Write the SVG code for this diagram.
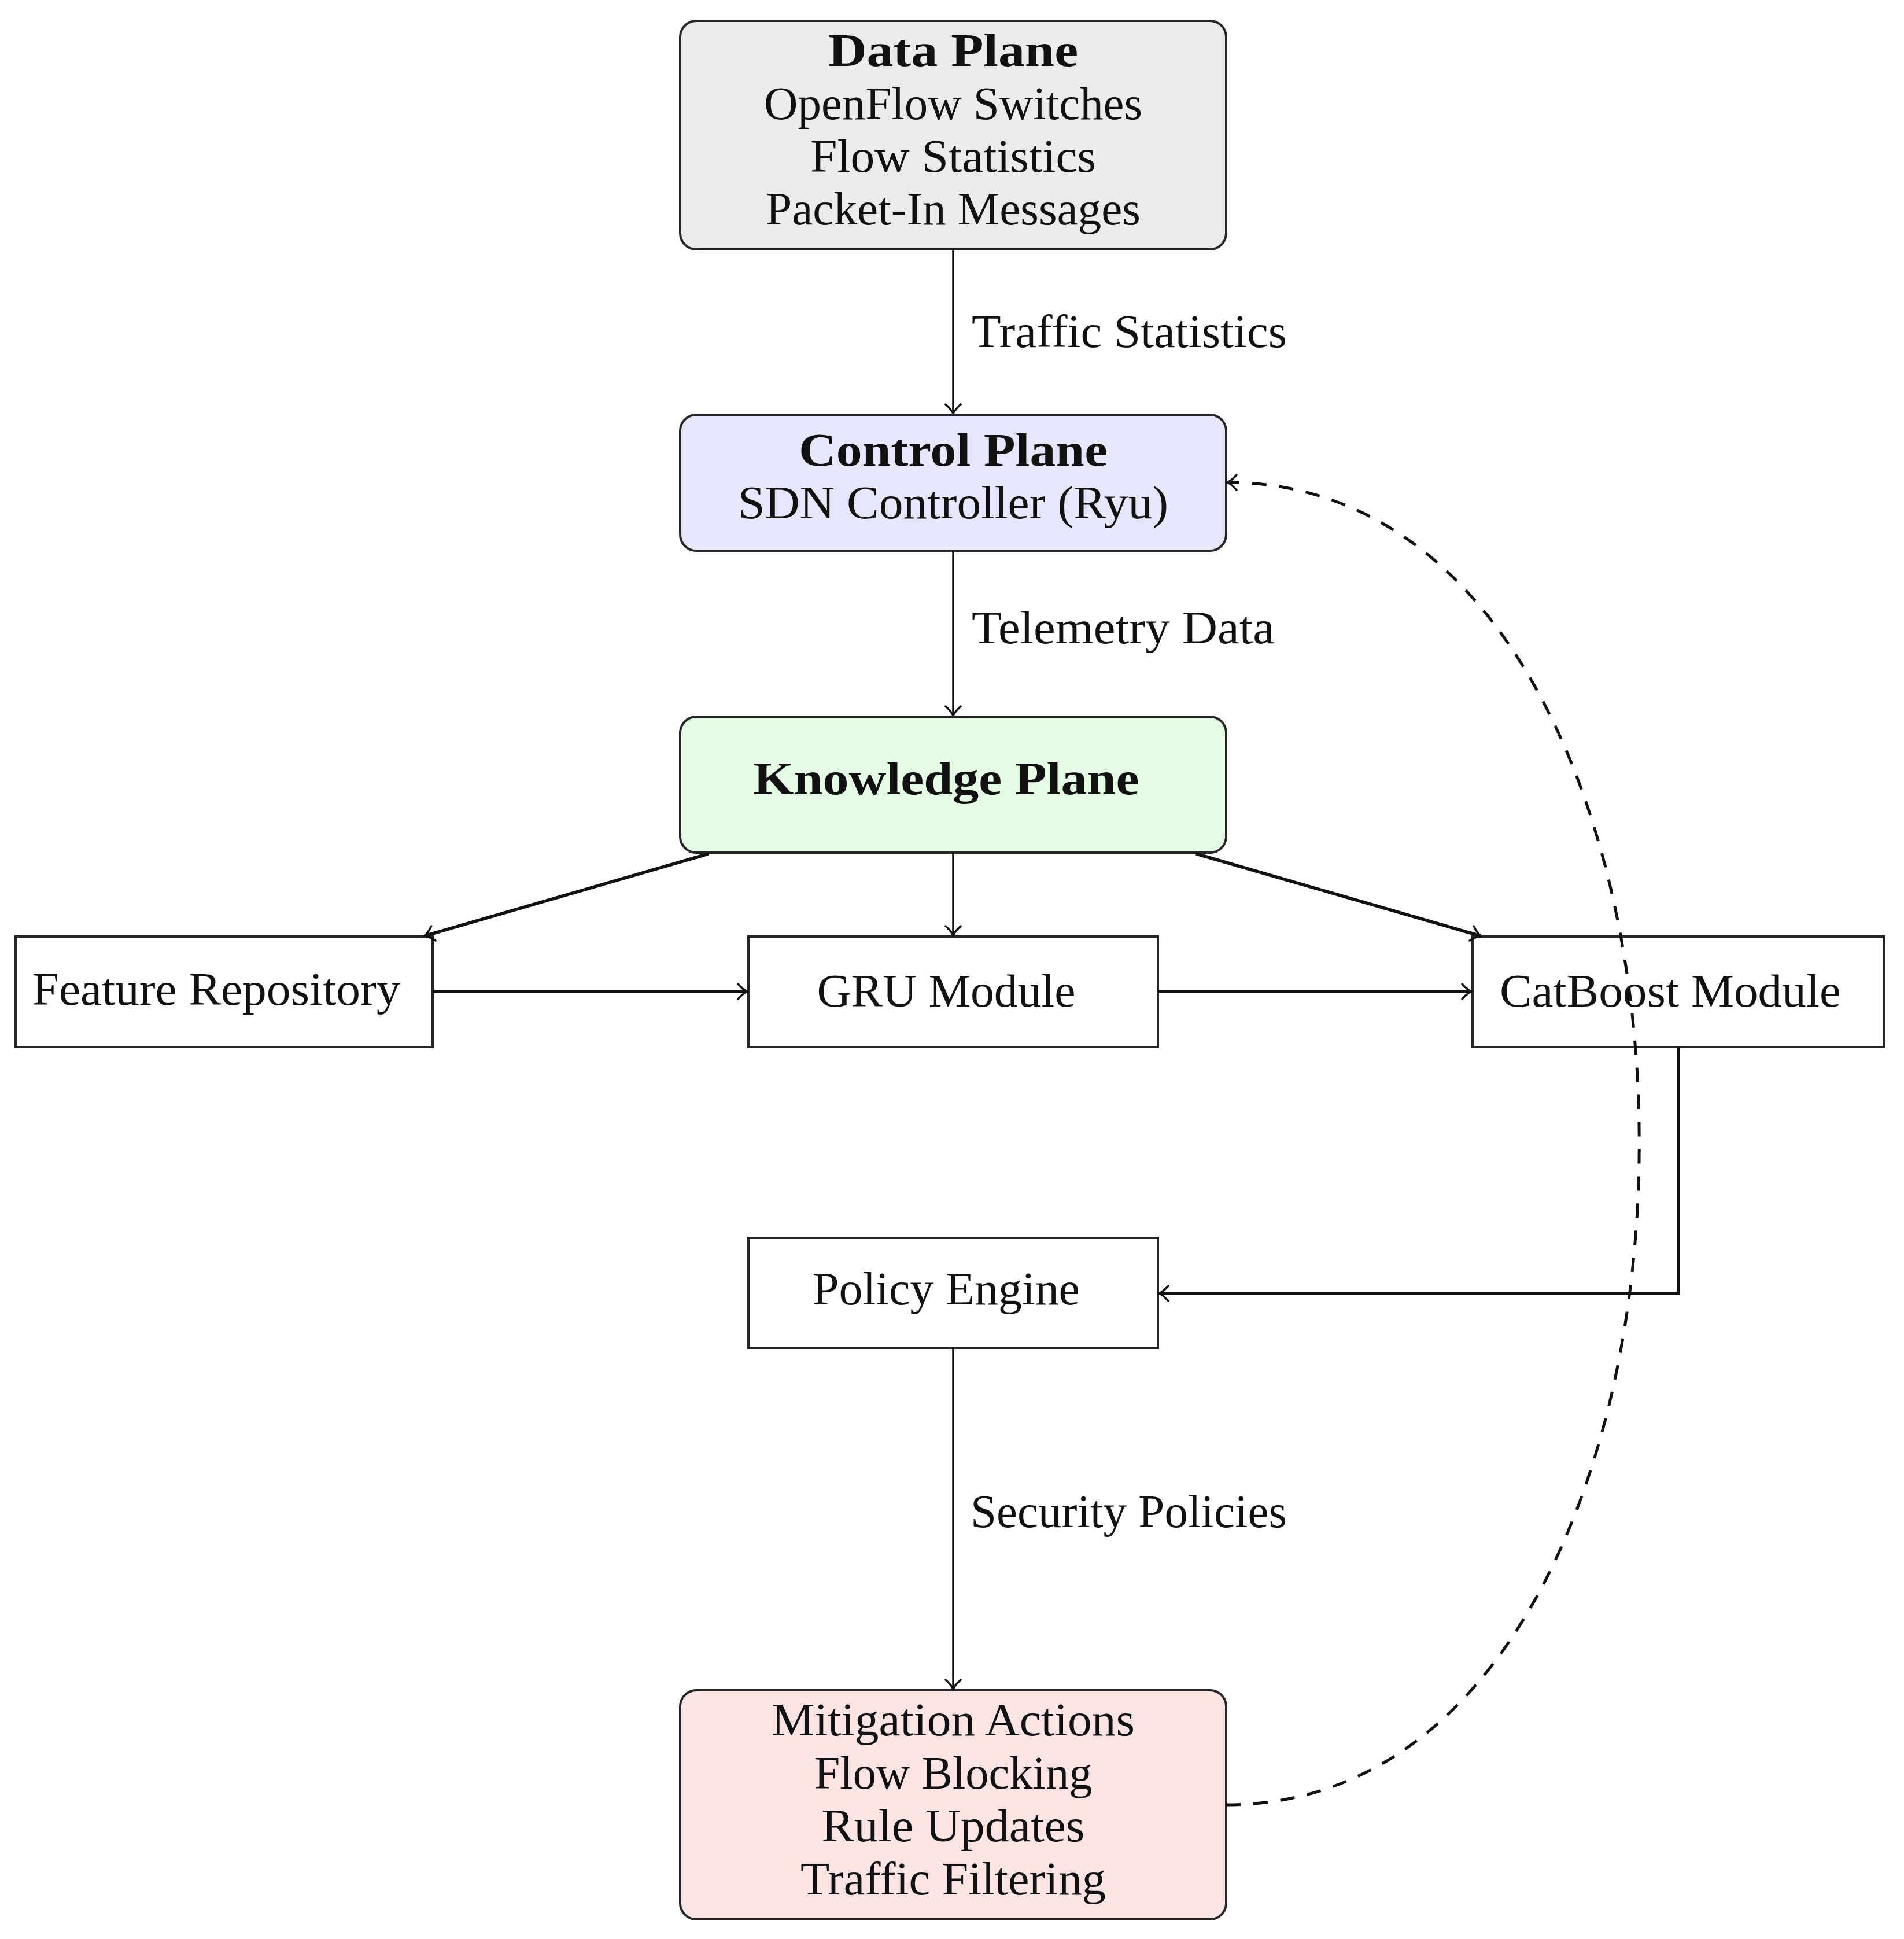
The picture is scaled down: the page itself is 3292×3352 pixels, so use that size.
<svg xmlns="http://www.w3.org/2000/svg" width="3292" height="3352" viewBox="0 0 3292 3352">
<style>
.box{stroke:#262626;stroke-width:4}
.t{font-family:"Liberation Serif","Times New Roman",serif;font-size:80px;fill:#111}
.b{font-weight:bold}
.c{text-anchor:middle}
.thin{fill:none;stroke:#111;stroke-width:3.5}
.thick{fill:none;stroke:#111;stroke-width:5.5}
.dash{fill:none;stroke:#111;stroke-width:5;stroke-dasharray:25 22}
</style>
<defs>
<marker id="ah" viewBox="-20 -16 24 32" markerWidth="24" markerHeight="32" refX="0" refY="0" orient="auto" markerUnits="userSpaceOnUse">
<path d="M -16 -13 Q -7 -3 0 0 Q -7 3 -16 13" fill="none" stroke="#111" stroke-width="3.5" stroke-linecap="round"/>
</marker>
</defs>
<rect width="3292" height="3352" fill="#ffffff"/>
<g id="data-plane">
<rect class="box" x="1176" y="36" width="944" height="395" rx="28" fill="#ebebeb"/>
<text class="t b c" x="1648" y="114" textLength="432" lengthAdjust="spacingAndGlyphs">Data Plane</text>
<text class="t c" x="1648" y="206" textLength="654" lengthAdjust="spacingAndGlyphs">OpenFlow Switches</text>
<text class="t c" x="1648" y="297" textLength="494" lengthAdjust="spacingAndGlyphs">Flow Statistics</text>
<text class="t c" x="1648" y="388" textLength="648" lengthAdjust="spacingAndGlyphs">Packet-In Messages</text>
</g>
<g id="control-plane">
<rect class="box" x="1176" y="717" width="944" height="235" rx="28" fill="#e6e6fc"/>
<text class="t b c" x="1648" y="805" textLength="534" lengthAdjust="spacingAndGlyphs">Control Plane</text>
<text class="t c" x="1648" y="896" textLength="744" lengthAdjust="spacingAndGlyphs">SDN Controller (Ryu)</text>
</g>
<g id="knowledge-plane">
<rect class="box" x="1176" y="1239" width="944" height="235" rx="28" fill="#e4fce4"/>
<text class="t b c" x="1636" y="1373" textLength="667" lengthAdjust="spacingAndGlyphs">Knowledge Plane</text>
</g>
<g id="feature-repository">
<rect class="box" x="27" y="1619" width="721" height="191" fill="#ffffff"/>
<text class="t c" x="374" y="1737" textLength="637" lengthAdjust="spacingAndGlyphs">Feature Repository</text>
</g>
<g id="gru-module">
<rect class="box" x="1294" y="1619" width="708" height="191" fill="#ffffff"/>
<text class="t c" x="1636" y="1740" textLength="447" lengthAdjust="spacingAndGlyphs">GRU Module</text>
</g>
<g id="catboost-module">
<rect class="box" x="2546" y="1619" width="711" height="191" fill="#ffffff"/>
<text class="t c" x="2888" y="1740" textLength="590" lengthAdjust="spacingAndGlyphs">CatBoost Module</text>
</g>
<g id="policy-engine">
<rect class="box" x="1294" y="2140" width="708" height="190" fill="#ffffff"/>
<text class="t c" x="1636" y="2255" textLength="462" lengthAdjust="spacingAndGlyphs">Policy Engine</text>
</g>
<g id="mitigation-actions">
<rect class="box" x="1176" y="2922" width="944" height="396" rx="28" fill="#fde4e4"/>
<text class="t c" x="1648" y="3000" textLength="628" lengthAdjust="spacingAndGlyphs">Mitigation Actions</text>
<text class="t c" x="1648" y="3092" textLength="481" lengthAdjust="spacingAndGlyphs">Flow Blocking</text>
<text class="t c" x="1648" y="3183" textLength="455" lengthAdjust="spacingAndGlyphs">Rule Updates</text>
<text class="t c" x="1648" y="3275" textLength="528" lengthAdjust="spacingAndGlyphs">Traffic Filtering</text>
</g>
<g id="connectors">
<line class="thin" x1="1648" y1="431" x2="1648" y2="715" marker-end="url(#ah)"/>
<line class="thin" x1="1648" y1="952" x2="1648" y2="1237" marker-end="url(#ah)"/>
<line class="thick" x1="1225" y1="1476" x2="734" y2="1618" marker-end="url(#ah)"/>
<line class="thin" x1="1648" y1="1474" x2="1648" y2="1617" marker-end="url(#ah)"/>
<line class="thick" x1="2068" y1="1476" x2="2560" y2="1618" marker-end="url(#ah)"/>
<line class="thick" x1="748" y1="1714" x2="1292" y2="1714" marker-end="url(#ah)"/>
<line class="thick" x1="2002" y1="1714" x2="2544" y2="1714" marker-end="url(#ah)"/>
<polyline class="thick" points="2902,1810 2902,2236 2004,2236" marker-end="url(#ah)"/>
<line class="thin" x1="1648" y1="2330" x2="1648" y2="2920" marker-end="url(#ah)"/>
<path class="dash" d="M 2120 3120 C 3072 3120 3072 834 2122 834" marker-end="url(#ah)"/>
<text class="t" x="1680" y="600" textLength="545" lengthAdjust="spacingAndGlyphs">Traffic Statistics</text>
<text class="t" x="1680" y="1112" textLength="524" lengthAdjust="spacingAndGlyphs">Telemetry Data</text>
<text class="t" x="1678" y="2640" textLength="547" lengthAdjust="spacingAndGlyphs">Security Policies</text>
</g>
</svg>
